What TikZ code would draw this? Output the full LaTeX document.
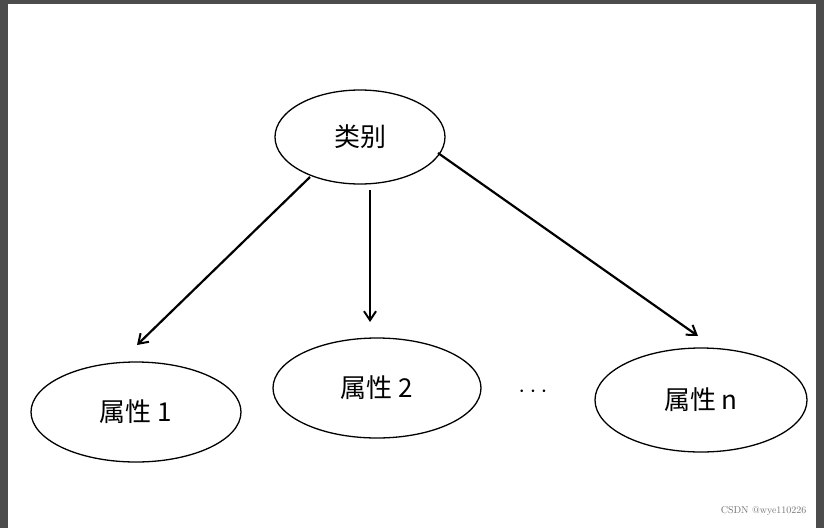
\documentclass[tikz,border=0pt]{standalone}
\usepackage{fontspec}
\newfontfamily\cjk{Noto Sans CJK SC}
\usetikzlibrary{positioning,arrows.meta,shapes.geometric}
\tikzset{>={Straight Barb[length=9pt,width=12pt,line width=2pt]},
  cls/.style={ellipse,draw=black,line width=1.3pt,inner sep=0pt,font=\cjk\fontsize{26}{28}\selectfont},
  link/.style={->,line width=2.2pt}}
\begin{document}
\begin{tikzpicture}[x=1pt,y=-1pt]
\useasboundingbox (0,0) rectangle (824,528);
\fill[white] (0,0) rectangle (824,528);
% dark frame
\fill[black!70] (0,0) rectangle (824,4);
\fill[black!70] (0,0) rectangle (8,528);
\fill[black!70] (816,0) rectangle (824,528);

\node[cls,minimum width=170,minimum height=94] (cat) at (360,137) {类别};
\node[cls,minimum width=210,minimum height=100] (a1) at (136,412) {属性 1};
\node[cls,minimum width=208,minimum height=100] (a2) at (377,388) {属性 2};
\node[cls,minimum width=212,minimum height=104] (an) at (701,400) {属性 n};
\node[font=\fontsize{30}{32}\selectfont] (dots) at (533,392) {$\cdots$};

\coordinate (c1) at (310,177);
\coordinate (c2) at (370,190);
\coordinate (c3) at (438,153);
\coordinate (e1) at (137,345);
\coordinate (e2) at (370,322);
\coordinate (e3) at (698,336);
\draw[link] (c1) -- (e1);
\draw[link] (c2) -- (e2);
\draw[link] (c3) -- (e3);

\node[anchor=east,text=black!55,font=\fontsize{10}{12}\selectfont] (mark) at (810,511) {CSDN @wye110226};
\end{tikzpicture}
\end{document}
